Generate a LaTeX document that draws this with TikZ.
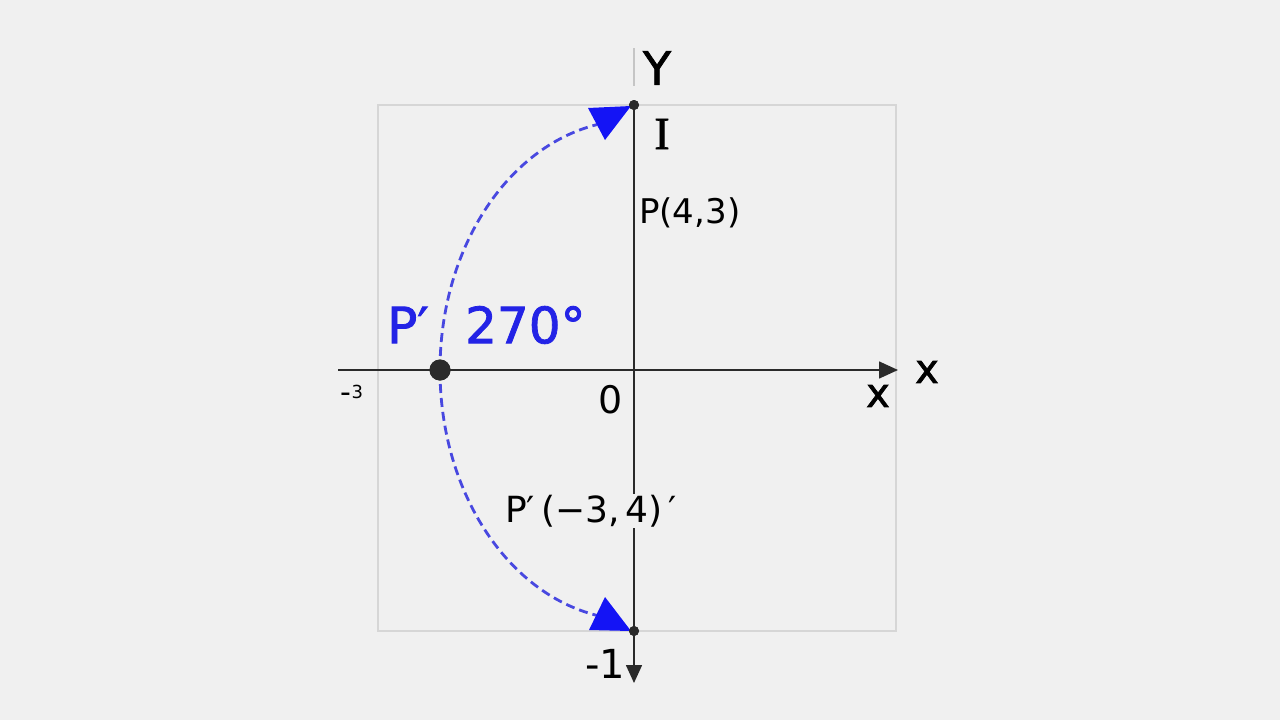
\documentclass[tikz,border=0pt]{standalone}
\usepackage{fontspec}
\setmainfont{DejaVu Sans}
\newfontfamily\semib[FakeBold=1.6]{DejaVu Sans}
\newfontfamily\serifI[FakeBold=1.5]{Liberation Serif}
\usetikzlibrary{arrows.meta}
\definecolor{bg}{HTML}{F0F0F0}
\definecolor{axisc}{HTML}{2A2A2A}
\definecolor{boxc}{HTML}{D6D6D6}
\definecolor{arcc}{HTML}{4848E0}
\definecolor{tipc}{HTML}{1414F5}
\definecolor{lblue}{HTML}{2323E6}
\tikzset{
  axisline/.style={draw=axisc, line width=1.6pt},
  bigdot/.style={circle, fill=axisc, inner sep=0pt, minimum size=#1},
  lbl/.style={inner sep=1pt, text=black, font=\fontsize{#1}{#1}\selectfont},
  arcline/.style={draw=arcc, line width=2.8pt, dash pattern=on 9pt off 5pt},
  tipfill/.style={fill=tipc, draw=none},
}
\begin{document}
\begin{tikzpicture}[x=1pt,y=-1pt]
\fill[bg] (0,0) rectangle (1280,720);
\useasboundingbox (0,0) rectangle (1280,720);
% square frame
\draw[boxc, line width=1.4pt] (378,105) rectangle (896,631);
% faint line above top
\draw[boxc!80!gray, line width=1.2pt] (634,48) -- (634,86);
% axes
\coordinate (xl) at (338,370);
\coordinate (xr) at (898,370);
\coordinate (yb) at (634,683);
\node[bigdot=10pt] (top) at (634,105) {};
\node[bigdot=10pt] (bot) at (634,631) {};
\node[bigdot=21pt] (pp) at (440,370) {};
\draw[axisline, -{Triangle[length=19pt,width=17pt]}] (xl) -- (xr);
\draw[axisline] (top.center) -- (bot.center);
\draw[axisline, -{Triangle[length=18pt,width=16pt]}] (bot.center) -- (yb);
% label covering the axis
\node[lbl=36, fill=bg, anchor=west, inner xsep=2pt] (lp2) at (503,511) {P′\,(−3,\,4)\,′};
% dashed arcs
\draw[arcline] (pp.center) arc[start angle=180, end angle=259, x radius=194, y radius=250];
\draw[arcline] (pp.center) arc[start angle=180, end angle=101, x radius=194, y radius=250];
\node[bigdot=21pt] at (pp) {};
% arrow heads
\fill[tipfill] (588,108) -- (631,106) -- (605,140) -- cycle;
\fill[tipfill] (589,630) -- (605,597) -- (631,631) -- cycle;
\node[bigdot=10pt] at (top) {};
\node[bigdot=10pt] at (bot) {};
% labels
\node[lbl=46, font=\semib\fontsize{46}{46}\selectfont] (ylab) at (657,68) {Y};
\node[lbl=46, font=\serifI\fontsize{46}{46}\selectfont] (ilab) at (662,134) {I};
\node[lbl=34, anchor=west] (p) at (638,213) {P(4,3)};
\node[lbl=50, text=lblue, anchor=west, font=\semib\fontsize{50}{50}\selectfont] (pprime) at (386,325) {P′};
\node[lbl=50, text=lblue, anchor=west, font=\semib\fontsize{50}{50}\selectfont] (deg) at (464,325) {270°};
\node[lbl=38] (zero) at (611,400) {0};
\node[lbl=40, font=\semib\fontsize{40}{40}\selectfont] (xlo) at (878,396) {x};
\node[lbl=40, font=\semib\fontsize{40}{40}\selectfont] (xhi) at (927,372) {x};
\node[lbl=30] (m3) at (352,394) {-\raisebox{4pt}{\fontsize{18}{18}\selectfont 3}};
\node[lbl=40] (m1) at (605,664) {-1};
\end{tikzpicture}
\end{document}
